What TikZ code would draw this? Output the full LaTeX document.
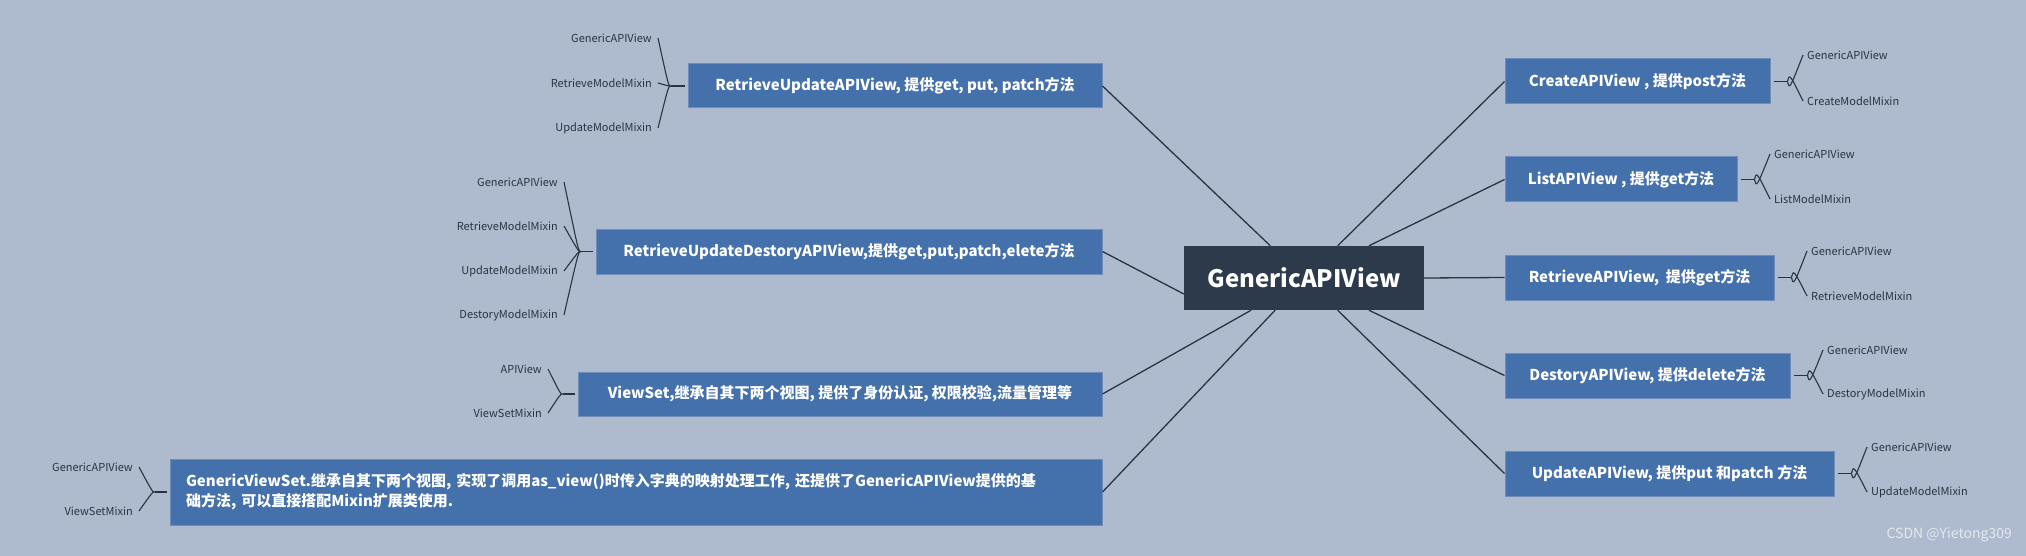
\documentclass[tikz,border=0pt]{standalone}
\usepackage{fontspec}
\usetikzlibrary{calc}
\setmainfont{Noto Sans CJK SC}
\definecolor{bg}{HTML}{AEBBCF}
\definecolor{boxc}{HTML}{4470AB}
\definecolor{boxb}{HTML}{6E8DB8}
\definecolor{ctr}{HTML}{2D3A4B}
\definecolor{ln}{HTML}{2B3340}
\definecolor{wm}{HTML}{E4E8EE}
\tikzset{
 bx/.style={fill=boxc,draw=boxb,line width=1pt,text=white,font=\fontsize{15}{20}\selectfont\bfseries,inner sep=0pt,align=center},
 leaf/.style={text=ln,font=\fontsize{11}{13}\selectfont,inner sep=0pt},
 con/.style={draw=ln,line width=1.3pt},
 br/.style={draw=ln,line width=1.1pt}
}
\begin{document}
\begin{tikzpicture}[x=1pt,y=-1pt]
\fill[bg] (0,0) rectangle (2026,556);
\useasboundingbox (0,0) rectangle (2026,556);
\node[fill=ctr,text=white,font=\fontsize{24}{28}\selectfont\bfseries,minimum width=240,minimum height=64,inner sep=0pt] (c) at (1304,278) {GenericAPIView};
% right boxes
\node[bx,minimum width=265,minimum height=45] (cr) at (1637.5,81.5) {CreateAPIView , 提供post方法};
\node[bx,minimum width=232,minimum height=45] (li) at (1621,179.5) {ListAPIView , 提供get方法};
\node[bx,minimum width=269,minimum height=45] (re) at (1639.5,277.5) {RetrieveAPIView,\ \ 提供get方法};
\node[bx,minimum width=285,minimum height=45] (de) at (1647.5,375.5) {DestoryAPIView, 提供delete方法};
\node[bx,minimum width=329,minimum height=45] (up) at (1669.5,473.5) {UpdateAPIView, 提供put 和patch 方法};
% left boxes
\node[bx,minimum width=414,minimum height=44] (ru) at (895,86) {RetrieveUpdateAPIView, 提供get, put, patch方法};
\node[bx,minimum width=506,minimum height=45] (rud) at (849,251.5) {RetrieveUpdateDestoryAPIView,提供get,put,patch,elete方法};
\node[bx,minimum width=524,minimum height=44] (vs) at (840,394) {ViewSet,继承自其下两个视图, 提供了身份认证, 权限校验,流量管理等};
\node[bx,minimum width=932,minimum height=66,align=left,text width=900] (gvs) at (636,492) {GenericViewSet.继承自其下两个视图, 实现了调用as\_view()时传入字典的映射处理工作, 还提供了GenericAPIView提供的基\\础方法, 可以直接搭配Mixin扩展类使用.};
% connectors
\draw[con] ($(c.north west)!0.36!(c.north east)$) -- (ru.east);
\draw[con] ([yshift=-16pt]c.west) -- (rud.east);
\draw[con] ($(c.south west)!0.28!(c.south east)$) -- (vs.east);
\draw[con] ($(c.south west)!0.38!(c.south east)$) -- (gvs.east);
\draw[con] ($(c.north west)!0.64!(c.north east)$) -- (cr.west);
\draw[con] ($(c.north west)!0.77!(c.north east)$) -- (li.west);
\draw[con] (c.east) -- (re.west);
\draw[con] ($(c.south west)!0.77!(c.south east)$) -- (de.west);
\draw[con] ($(c.south west)!0.64!(c.south east)$) -- (up.west);
% right leaves
\node[leaf,anchor=west] (cr1) at (1807,55) {GenericAPIView};
\node[leaf,anchor=west] (cr2) at (1807,101) {CreateModelMixin};
\node[leaf,anchor=west] (li1) at (1774,154) {GenericAPIView};
\node[leaf,anchor=west] (li2) at (1774,199) {ListModelMixin};
\node[leaf,anchor=west] (re1) at (1811,251) {GenericAPIView};
\node[leaf,anchor=west] (re2) at (1811,296) {RetrieveModelMixin};
\node[leaf,anchor=west] (de1) at (1827,350) {GenericAPIView};
\node[leaf,anchor=west] (de2) at (1827,394) {DestoryModelMixin};
\node[leaf,anchor=west] (up1) at (1871,447) {GenericAPIView};
\node[leaf,anchor=west] (up2) at (1871,492) {UpdateModelMixin};
\foreach \b/\l in {cr/cr,li/li,re/re,de/de,up/up}{
 \coordinate (\b s) at ([xshift=17pt]\b.east);
 \draw[br] ([xshift=3pt]\b.east) -- (\b s);
 \draw[br] (\b s) .. controls ([xshift=2pt,yshift=-8pt]\b s) .. ([xshift=-4pt]\l1.west);
 \draw[br] (\b s) .. controls ([xshift=2pt,yshift=8pt]\b s) .. ([xshift=-4pt]\l2.west);
}
% left leaves
\node[leaf,anchor=east] (ru1) at (652,38) {GenericAPIView};
\node[leaf,anchor=east] (ru2) at (652,83) {RetrieveModelMixin};
\node[leaf,anchor=east] (ru3) at (652,128) {UpdateModelMixin};
\node[leaf,anchor=east] (rud1) at (558,182) {GenericAPIView};
\node[leaf,anchor=east] (rud2) at (558,226) {RetrieveModelMixin};
\node[leaf,anchor=east] (rud3) at (558,271) {UpdateModelMixin};
\node[leaf,anchor=east] (rud4) at (558,315) {DestoryModelMixin};
\node[leaf,anchor=east] (vs1) at (542,369) {APIView};
\node[leaf,anchor=east] (vs2) at (542,413) {ViewSetMixin};
\node[leaf,anchor=east] (gvs1) at (133,467) {GenericAPIView};
\node[leaf,anchor=east] (gvs2) at (133,511) {ViewSetMixin};
\coordinate (rus) at ([xshift=-17pt]ru.west);
\draw[br] ([xshift=-3pt]ru.west) -- (rus);
\foreach \i in {1,2,3}{\draw[br] (rus) .. controls ([xshift=-2pt]rus) .. ([xshift=6pt]ru\i.east);}
\coordinate (ruds) at ([xshift=-15pt]rud.west);
\draw[br] ([xshift=-3pt]rud.west) -- (ruds);
\foreach \i in {1,2,3,4}{\draw[br] (ruds) .. controls ([xshift=-2pt]ruds) .. ([xshift=6pt]rud\i.east);}
\coordinate (vss) at ([xshift=-15pt]vs.west);
\draw[br] ([xshift=-3pt]vs.west) -- (vss);
\foreach \i in {1,2}{\draw[br] (vss) .. controls ([xshift=-2pt]vss) .. ([xshift=6pt]vs\i.east);}
\coordinate (gvss) at ([xshift=-15pt]gvs.west);
\draw[br] ([xshift=-3pt]gvs.west) -- (gvss);
\foreach \i in {1,2}{\draw[br] (gvss) .. controls ([xshift=-2pt]gvss) .. ([xshift=6pt]gvs\i.east);}
\node[text=wm,font=\fontsize{14}{16}\selectfont,anchor=east,inner sep=0pt] (wmk) at (2012,535) {CSDN @Yietong309};
\end{tikzpicture}
\end{document}
